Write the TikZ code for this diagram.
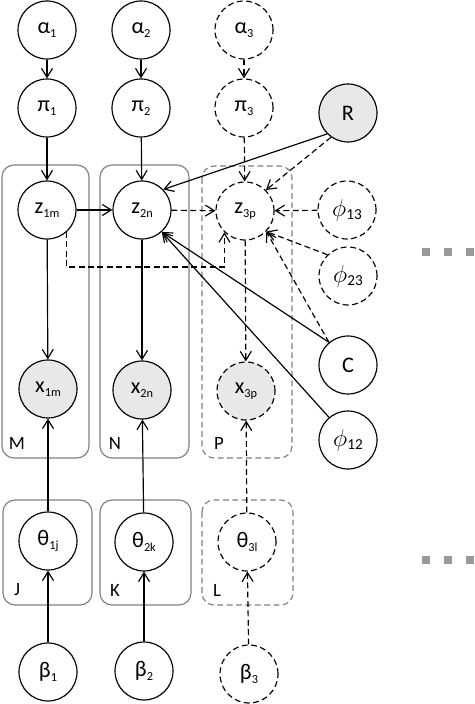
\documentclass[tikz,border=0pt]{standalone}
\usepackage{fontspec}
\setmainfont{Carlito}
\usetikzlibrary{arrows.meta, positioning}

\newcommand{\subidx}[1]{\raisebox{-0.35ex}{\fontsize{10.5}{11}\selectfont #1}}
\newcommand{\phiidx}[1]{{\fontsize{20}{22}\selectfont$\phi$}\raisebox{-0.3ex}{\fontsize{13}{13}\selectfont #1}}

\begin{document}
\begin{tikzpicture}[
    x=0.03cm, y=-0.03cm,
    >={Straight Barb[length=2.7mm,width=3.3mm]},
    var/.style={draw, circle, line width=1pt, minimum size=1.74cm, inner sep=0pt, font=\fontsize{19}{21}\selectfont},
    obs/.style={fill=black!9},
    hid/.style={dash pattern=on 5pt off 3pt},
    plate/.style={draw=black!50, line width=1pt, rounded corners=0.36cm},
    lbl/.style={font=\fontsize{16}{18}\selectfont},
    link/.style={->, line width=1pt},
    more/.style={fill=black!40}
]
    \useasboundingbox (0,0) rectangle (474,704);

    % plates
    \draw[plate] (2,165) rectangle (89,458);
    \draw[plate] (100,165) rectangle (189,458);
    \draw[plate, hid] (202,166) rectangle (292,458);
    \draw[plate] (3,500) rectangle (92,605);
    \draw[plate] (100,500) rectangle (191,605);
    \draw[plate, hid] (202,500) rectangle (293,605);
    \node[lbl] (lM) at (17,443) {M};
    \node[lbl] (lN) at (115,443) {N};
    \node[lbl] (lP) at (219,443) {P};
    \node[lbl] (lJ) at (17,590) {J};
    \node[lbl] (lK) at (115,590) {K};
    \node[lbl] (lL) at (217,590) {L};

    % first chain
    \node[var] (a1) at (47,30) {α\subidx{1}};
    \node[var] (p1) at (47,108) {π\subidx{1}};
    \node[var] (z1) at (47,210) {z\subidx{1m}};
    \node[var, obs] (x1) at (48,389) {x\subidx{1m}};
    \node[var] (t1) at (48,541) {θ\subidx{1j}};
    \node[var] (b1) at (48,672) {β\subidx{1}};

    % second chain
    \node[var] (a2) at (141,30) {α\subidx{2}};
    \node[var] (p2) at (141,108) {π\subidx{2}};
    \node[var] (z2) at (142,210) {z\subidx{2n}};
    \node[var, obs] (x2) at (142,390) {x\subidx{2n}};
    \node[var] (t2) at (144,542) {θ\subidx{2k}};
    \node[var] (b2) at (144,671) {β\subidx{2}};

    % third chain (dashed)
    \node[var, hid] (a3) at (244,30) {α\subidx{3}};
    \node[var, hid] (p3) at (244,108) {π\subidx{3}};
    \node[var, hid] (z3) at (245,211) {z\subidx{3p}};
    \node[var, hid, obs] (x3) at (246,391) {x\subidx{3p}};
    \node[var, hid] (t3) at (247,542) {θ\subidx{3l}};
    \node[var, hid] (b3) at (249,674) {β\subidx{3}};

    % right column
    \node[var, obs] (R) at (348,113) {R};
    \node[var, hid] (f13) at (347,210) {\phiidx{13}};
    \node[var, hid] (f23) at (348,276) {\phiidx{23}};
    \node[var] (C) at (348,365) {C};
    \node[var] (f12) at (348,440) {\phiidx{12}};

    \draw[link] (a1) -- (p1);
    \draw[link] (p1) -- (z1);
    \draw[link] (z1) -- (x1);
    \draw[link] (t1) -- (x1);
    \draw[link] (b1) -- (t1);

    \draw[link] (a2) -- (p2);
    \draw[link] (p2) -- (z2);
    \draw[link] (z2) -- (x2);
    \draw[link] (t2) -- (x2);
    \draw[link] (b2) -- (t2);

    \draw[link, hid] (a3) -- (p3);
    \draw[link, hid] (p3) -- (z3);
    \draw[link, hid] (z3) -- (x3);
    \draw[link, hid] (t3) -- (x3);
    \draw[link, hid] (b3) -- (t3);

    \draw[link] (z1) -- (z2);
    \draw[link, hid] (z2) -- (z3);
    \draw[link, hid] (z1.-48) -- ++(0,35) -| (z3.-134);
    \draw[link] (R.-135) -- (z2.44);
    \draw[link, hid] (R.-125) -- (z3.45);
    \draw[link, hid] (f13) -- (z3);
    \draw[link, hid] (f23.134) -- (z3.-44);
    \draw[link, hid] (C.130) -- (z3.-44);
    \draw[link] (C.130) -- (z2.-48);
    \draw[link] (f12.130) -- (z2.-48);

    % more dimensions
    \foreach \dx in {426,448,470} {
        \fill[more] (\dx-4,248) rectangle ++(8,8);
        \fill[more] (\dx-4,556) rectangle ++(8,8);
    }
\end{tikzpicture}
\end{document}
